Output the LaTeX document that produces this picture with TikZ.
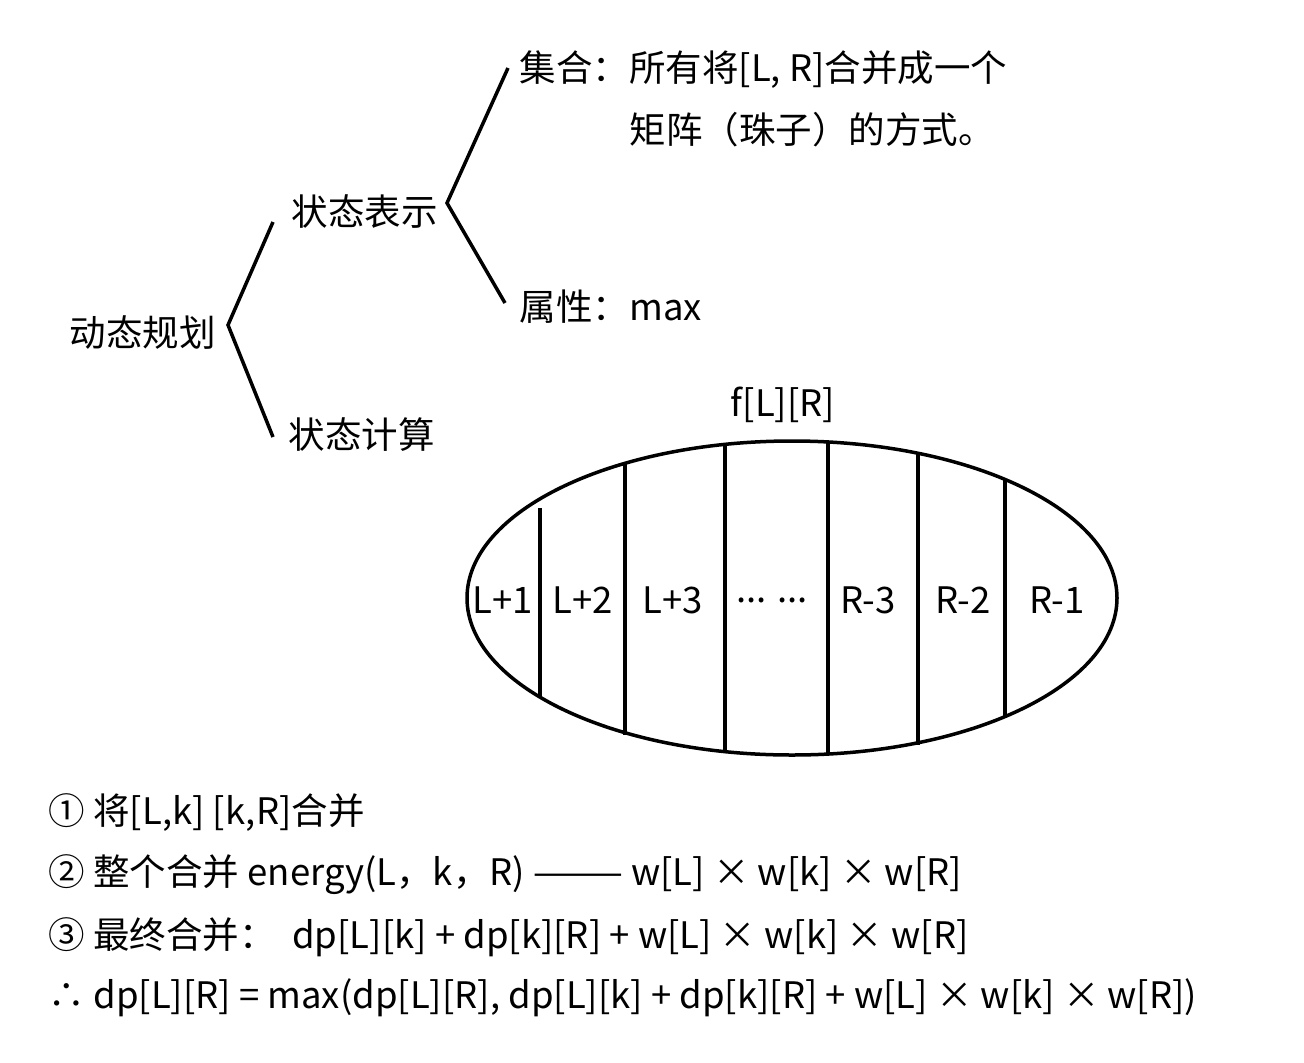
\documentclass[tikz,border=0pt]{standalone}
\usepackage{fontspec}
\usetikzlibrary{shapes.geometric}
\setmainfont{Noto Sans CJK SC}
\begin{document}
\begin{tikzpicture}[x=1pt,y=-1pt,line width=3.5pt,
  lbl/.style={font=\fontsize{36.5}{40}\selectfont,inner sep=0pt},
  llbl/.style={lbl,anchor=west}]
\useasboundingbox (0,0) rectangle (1304,1063);
% tree
\coordinate (a1) at (273,222); \coordinate (a2) at (228,325); \coordinate (a3) at (273,437);
\draw (a1) -- (a2) -- (a3);
\coordinate (b1) at (508,68); \coordinate (b2) at (447,203); \coordinate (b3) at (505,303);
\draw (b1) -- (b2) -- (b3);
\node[llbl] (dp) at (68,333) {动态规划};
\node[llbl] (rep) at (290,212) {状态表示};
\node[llbl] (cal) at (287,435) {状态计算};
\node[llbl] (set) at (518,70) {集合：所有将[L, R]合并成一个};
\node[llbl] (set2) at (628,130) {矩阵（珠子）的方式。};
\node[llbl] (att) at (518,307) {属性：max};
\node[lbl] (f) at (783,405) {f[L][R]};
% ellipse
\node[draw,ellipse,minimum width=650pt,minimum height=314pt,inner sep=0pt] (el) at (792,598) {};
\draw (540,508) -- (540,698);
\draw (625,463) -- (625,735);
\draw (725,445) -- (725,752);
\draw (828,442) -- (828,755);
\draw (918,453) -- (918,745);
\draw (1005,480) -- (1005,718);
\node[lbl] (c1) at (503,600) {L+1};
\node[lbl] (c2) at (583,600) {L+2};
\node[lbl] (c3) at (673,600) {L+3};
\node[lbl] (c4) at (772,600) {... ...};
\node[lbl] (c5) at (868,600) {R-3};
\node[lbl] (c6) at (963,600) {R-2};
\node[lbl] (c7) at (1057,600) {R-1};
% bottom
\node[llbl] (l1) at (47,813) {① 将[L,k] [k,R]合并};
\node[llbl] (l2) at (47,875) {② 整个合并 energy(L，k，R) ——— w[L] × w[k] × w[R]};
\node[llbl] (l3) at (47,937) {③ 最终合并：\ \ dp[L][k] + dp[k][R] + w[L] × w[k] × w[R]};
\node[llbl] (l4) at (47,998) {∴ dp[L][R] = max(dp[L][R], dp[L][k] + dp[k][R] + w[L] × w[k] × w[R])};
\end{tikzpicture}
\end{document}
